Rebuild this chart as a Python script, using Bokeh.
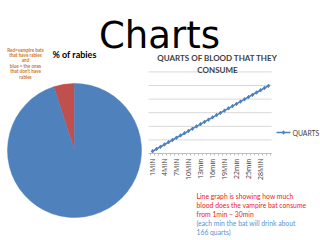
import math
from bokeh.plotting import figure
from bokeh.models import Range1d
from bokeh.core.properties import value
from bokeh.embed import file_html
from bokeh.resources import INLINE

# ---------------- data ----------------
pie_labels = ["have rabies", "no rabies"]
pie_values = [5, 95]
pie_colors = ["#C0504D", "#4F81BD"]

minutes = [1, 2, 3, 4, 5, 6, 7, 8, 9, 10, 11, 12, 13, 14, 15,
           16, 17, 18, 19, 20, 21, 22, 23, 24, 25, 26, 27, 28, 29, 30]
quarts = [166, 332, 498, 664, 830, 996, 1162, 1328, 1494, 1660,
          1826, 1992, 2158, 2324, 2490, 2656, 2822, 2988, 3154, 3320,
          3486, 3652, 3818, 3984, 4150, 4316, 4482, 4648, 4814, 4980]
tick_minutes = [1, 4, 7, 10, 13, 16, 19, 22, 25, 28]
tick_labels = ["1MIN", "4MIN", "7MIN", "10MIN", "13min", "16min",
               "19MIN", "22min", "25min", "28MIN"]
grid_values = [1000, 2000, 3000, 4000, 5000, 6000]

W, H = 320, 240


def Y(py):
    return H - py


p = figure(width=W, height=H, output_backend="svg", toolbar_location=None,
           x_range=Range1d(0, W), y_range=Range1d(0, H),
           min_border=0, outline_line_color=None)
p.axis.visible = False
p.grid.visible = False
p.background_fill_color = "white"
p.border_fill_color = "white"

# ---------------- pie ----------------
cx, cy, r = 74, Y(150), 67
total = sum(pie_values)
start = math.pi / 2
for v, c in zip(pie_values, pie_colors):
    end = start + 2 * math.pi * v / total
    p.wedge(x=cx, y=cy, radius=r, start_angle=start, end_angle=end,
            direction="anticlock", fill_color=c, line_color=c, line_width=0.5)
    start = end

# ---------------- line chart (own ranges) ----------------
step_px = 4.0
x_px_first = 152
a = minutes[0] - x_px_first / step_px
p.extra_x_ranges["q"] = Range1d(start=a, end=a + W / step_px)
zero_py = 153
px_per_unit = 13.6 / 1000.0
y0 = -Y(zero_py) / px_per_unit
p.extra_y_ranges["q"] = Range1d(start=y0, end=y0 + H / px_per_unit)

lo, hi = minutes[0] - 0.5, minutes[-1] + 0.5
grid_lo, grid_hi = lo - 0.5, hi + 0.3
p.segment(x0=[grid_lo] * len(grid_values), x1=[grid_hi] * len(grid_values),
          y0=grid_values, y1=grid_values, line_color="#D9D9D9", line_width=1,
          x_range_name="q", y_range_name="q")
p.segment(x0=[grid_lo], x1=[grid_hi], y0=[0], y1=[0], line_color="#BFBFBF",
          line_width=1, x_range_name="q", y_range_name="q")
tick_x = [m - 0.5 for m in minutes] + [minutes[-1] + 0.5]
p.segment(x0=tick_x, x1=tick_x, y0=[0] * len(tick_x), y1=[-2 / 13.6 * 1000] * len(tick_x),
          line_color="#BFBFBF", line_width=1, x_range_name="q", y_range_name="q")

p.line(minutes, quarts, line_color="#4F81BD", line_width=1.6,
       x_range_name="q", y_range_name="q")
p.scatter(minutes, quarts, marker="diamond", size=3.5, color="#4F81BD",
          x_range_name="q", y_range_name="q")

p.text(x=tick_minutes, y=[-5 / 13.6 * 1000] * len(tick_minutes), text=tick_labels,
       angle=math.pi / 2, text_align="right", text_baseline="middle",
       text_font=value("Open Sans"), text_font_size="7px", text_color="#404040",
       x_range_name="q", y_range_name="q")

# legend
p.line(x=[276, 290], y=[Y(132), Y(132)], line_color="#4F81BD", line_width=1.6)
p.scatter(x=[283], y=[Y(132)], marker="diamond", size=3.5, color="#4F81BD")
p.text(x=[292], y=[Y(132)], text=["QUARTS"], text_baseline="middle",
       text_font=value("Lato"), text_font_size="6.8px", text_color="#404040")

# ---------------- texts ----------------
p.text(x=[159], y=[Y(35)], text=["Charts"], text_align="center",
       text_baseline="alphabetic", text_font=value("DejaVu Sans"),
       text_font_size="37px", text_color="black")

p.text(x=[52], y=[Y(54)], text=["% of rabies"], text_baseline="middle",
       text_font=value("Lato"), text_font_style="bold", text_font_size="9px",
       text_color="black")

p.text(x=[217, 217], y=[Y(57), Y(69)],
       text=["QUARTS OF BLOOD THAT THEY", "CONSUME"], text_align="center",
       text_baseline="middle", text_font=value("Lato"), text_font_style="bold",
       text_font_size="8px", text_color="#404040")

note_lines = ["Red=vampire bats", "that have rabies", "and", "blue = the ones",
              "that don't have", "rabies"]
p.text(x=[25] * 6, y=[Y(49 + 5.4 * i) for i in range(6)], text=note_lines,
       text_align="center", text_baseline="middle", text_font=value("Lato"),
       text_font_style="bold", text_font_size="4.6px", text_color="#C8782D")

red_lines = ["Line graph is showing how much",
             "blood does the vampire bat consume",
             "from 1min \u2013 30min"]
blue_lines = ["(each min the bat will drink about", "166 quarts)"]
p.text(x=[196] * 3, y=[Y(195), Y(204.2), Y(213.2)], text=red_lines,
       text_baseline="middle", text_font=value("Lato"), text_font_size="6.8px",
       text_color="#EE1C24")
p.text(x=[196] * 2, y=[Y(222.2), Y(231.2)], text=blue_lines,
       text_baseline="middle", text_font=value("Lato"), text_font_size="6.8px",
       text_color="#5B93D3")

open("out.html", "w").write(file_html(p, INLINE))
